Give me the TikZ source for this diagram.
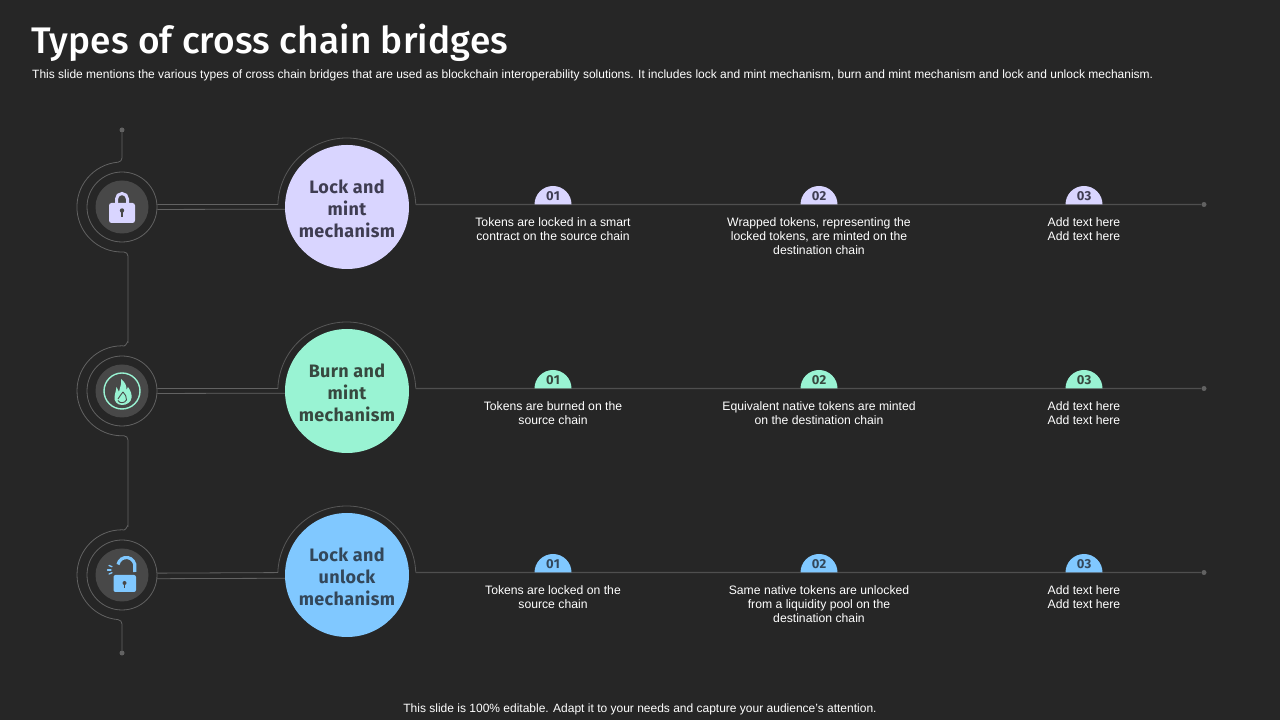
\documentclass[tikz,border=0pt]{standalone}
\usepackage{fontspec}
\usepackage{xcolor}
\usepackage{tikz}
\usetikzlibrary{calc}
\setmainfont{Liberation Sans}
\newfontfamily\headfont[LetterSpace=0.4,UprightFont=* Medium]{Fira Sans}
\newfontfamily\discfont[LetterSpace=2.0]{Fira Sans}
\definecolor{slidebg}{HTML}{262626}
\definecolor{wiregray}{HTML}{626262}
\definecolor{arcgray}{HTML}{575757}
\definecolor{railgray}{HTML}{4F4F4F}
\definecolor{hubgray}{HTML}{484848}
\definecolor{lilac}{HTML}{D9D5FF}
\definecolor{mint}{HTML}{99F3D3}
\definecolor{sky}{HTML}{80C8FF}
\definecolor{lilacink}{HTML}{3F3D52}
\definecolor{mintink}{HTML}{37483F}
\definecolor{skyink}{HTML}{33475A}
\tikzset{
  wire/.style={draw=wiregray, line width=0.8pt},
  haloarc/.style={draw=arcgray, line width=0.8pt},
  rail/.style={draw=railgray, line width=1.3pt},
  enddot/.style={circle, fill=wiregray, inner sep=0pt, minimum size=5pt},
  outerring/.style={circle, inner sep=0pt, minimum size=90pt},
  innerring/.style={circle, wire, inner sep=0pt, minimum size=70pt},
  hub/.style={circle, fill=hubgray, inner sep=0pt, minimum size=53pt},
  halo/.style={circle, inner sep=0pt, minimum size=138pt},
  bigdisc/.style={circle, inner sep=0pt, minimum size=124pt},
  disclabel/.style={inner sep=0pt, align=center, font=\discfont\bfseries\fontsize{18}{22}\selectfont},
  tabnum/.style={inner sep=0pt, font=\discfont\bfseries\fontsize{13}{13}\selectfont},
  note/.style={inner sep=0pt, align=center, text=white, font=\fontsize{12.2}{14}\selectfont}
}

\begin{document}
\begin{tikzpicture}[x=1pt,y=1pt]
        \fill[slidebg] (0,0) rectangle (1280,720);

        % Titre
        \node[anchor=west, inner sep=0pt, text=white, font=\headfont\fontsize{37}{37}\selectfont] (title) at (31,677) {Types of cross chain bridges};
        \node[anchor=west, inner sep=0pt, text=white, font=\fontsize{12}{14}\selectfont] (subtitle) at (32,645) {This slide mentions the various types of cross chain bridges that are used as blockchain interoperability solutions. It includes lock and mint mechanism, burn and mint mechanism and lock and unlock mechanism.};
        \node[inner sep=0pt, text=white, font=\fontsize{12}{14}\selectfont] (footer) at (640,11) {This slide is 100\% editable. Adapt it to your needs and capture your audience's attention.};

        % Colonne de gauche
        \node[outerring] (outera) at (122,513) {};
        \node[outerring] (outerb) at (122,329) {};
        \node[outerring] (outerc) at (122,145) {};
        \node[enddot] (topdot) at (122,590) {};
        \node[enddot] (botdot) at (122,67) {};
        \draw[wire] (topdot) -- (122,562) to[out=-90,in=5] (118,557.8) arc (95:270:45)
            -- ++(2,0) to[out=0,in=90] (128,464) -- (128,378) to[out=90,in=0] (124,374) -- (outerb.north) arc (90:270:45)
            -- ++(2,0) to[out=0,in=90] (128,280) -- (128,194) to[out=90,in=0] (124,190) -- (outerc.north) arc (90:265:45)
            to[out=-5,in=90] (122,96) -- (botdot);

        % Ligne 1 : lock and mint
        \node[innerring] (ringa) at (122,513) {};
        \node[hub] (huba) at (122,513) {};
        \node[halo] (haloa) at (347,513) {};
        \node[bigdisc, fill=lilac] (disca) at (347,513) {};
        \node[disclabel, text=lilacink] (labela) at (347,511.5) {Lock and\\mint\\mechanism};
        \draw[haloarc] (haloa.178) arc (178:2:69);
        \draw[wire] (ringa.4) -- (haloa.178);
        \draw[wire] (ringa.-4) -- (disca.182);
        \node[enddot] (enda) at (1204,515.5) {};
        \draw[rail] (haloa.2) -- (enda);
        \fill[lilac, rounded corners=2.5pt] (109,497) rectangle (135,517);
        \draw[lilac, line width=3pt] (116.5,515) -- (116.5,521) arc (180:0:5.5) -- (127.5,515);
        \fill[hubgray] (122,509.5) circle (2.2);
        \fill[hubgray] (121.2,503) rectangle (122.8,509.5);
        \fill[lilac] (534.5,515.5) arc (180:0:18.5) -- cycle;
        \fill[lilac] (800.5,515.5) arc (180:0:18.5) -- cycle;
        \fill[lilac] (1065.5,515.5) arc (180:0:18.5) -- cycle;
        \node[tabnum, text=lilacink] (numaa) at (553,524) {01};
        \node[tabnum, text=lilacink] (numab) at (819,524) {02};
        \node[tabnum, text=lilacink] (numac) at (1084,524) {03};
        \node[note, anchor=north] (noteaa) at (553,502.5) {Tokens are locked in a smart\\contract on the source chain};
        \node[note, anchor=north] (noteab) at (819,502.5) {Wrapped tokens, representing the\\locked tokens, are minted on the\\destination chain};
        \node[note, anchor=north] (noteac) at (1084,502.5) {Add text here\\Add text here};

        % Ligne 2 : burn and mint
        \node[innerring] (ringb) at (122,329) {};
        \node[hub] (hubb) at (122,329) {};
        \node[halo] (halob) at (347,329) {};
        \node[bigdisc, fill=mint] (discb) at (347,329) {};
        \node[disclabel, text=mintink] (labelb) at (347,327.5) {Burn and\\mint\\mechanism};
        \draw[haloarc] (halob.178) arc (178:2:69);
        \draw[wire] (ringb.4) -- (halob.178);
        \draw[wire] (ringb.-4) -- (discb.182);
        \node[enddot] (endb) at (1204,331.5) {};
        \draw[rail] (halob.2) -- (endb);
        \draw[mint, line width=1.4pt] (122,329) circle (18);
        \fill[mint] (122,315) .. controls (117,315) and (114,319) .. (114.5,323) .. controls (115,327) and (116,329) .. (116.5,333) .. controls (118,331) and (118.5,330) .. (119,328) .. controls (120,333) and (122,337) .. (121,341) .. controls (125,338) and (127,334) .. (126.5,330) .. controls (127.5,331) and (128,332) .. (128,333) .. controls (131,329) and (132,325) .. (131.5,322) .. controls (131,318) and (127,315) .. (122,315) -- cycle;
        \draw[hubgray, line width=0.9pt] (118,319.5) .. controls (119,316.5) and (125,316.5) .. (126.5,320) .. controls (127,323) and (125,326) .. (123,328);
        \draw[hubgray, line width=0.9pt] (123,328) .. controls (122,325) and (118.5,324) .. (118,321);
        \fill[mint] (534.5,331.5) arc (180:0:18.5) -- cycle;
        \fill[mint] (800.5,331.5) arc (180:0:18.5) -- cycle;
        \fill[mint] (1065.5,331.5) arc (180:0:18.5) -- cycle;
        \node[tabnum, text=mintink] (numba) at (553,340) {01};
        \node[tabnum, text=mintink] (numbb) at (819,340) {02};
        \node[tabnum, text=mintink] (numbc) at (1084,340) {03};
        \node[note, anchor=north] (noteba) at (553,318.5) {Tokens are burned on the\\source chain};
        \node[note, anchor=north] (notebb) at (819,318.5) {Equivalent native tokens are minted\\on the destination chain};
        \node[note, anchor=north] (notebc) at (1084,318.5) {Add text here\\Add text here};

        % Ligne 3 : lock and unlock
        \node[innerring] (ringc) at (122,145) {};
        \node[hub] (hubc) at (122,145) {};
        \node[halo] (haloc) at (347,145) {};
        \node[bigdisc, fill=sky] (discc) at (347,145) {};
        \node[disclabel, text=skyink] (labelc) at (347,143.5) {Lock and\\unlock\\mechanism};
        \draw[haloarc] (haloc.178) arc (178:2:69);
        \draw[wire] (ringc.3) -- (haloc.178);
        \draw[wire] (ringc.-6) -- (discc.183);
        \node[enddot] (endc) at (1204,147.5) {};
        \draw[rail] (haloc.2) -- (endc);
        \fill[sky, rounded corners=2pt] (113.5,128) rectangle (136,145);
        \draw[sky, line width=3.2pt] (118,155.5) arc (170:-10:8.5) -- (134.8,148);
        \fill[hubgray] (124.5,137) circle (2);
        \fill[hubgray] (123.8,132) rectangle (125.2,137);
        \draw[sky, line width=1.3pt, line cap=round] (109,154.5) -- (112,153.3);
        \draw[sky, line width=1.3pt, line cap=round] (107.5,150) -- (111,150);
        \draw[sky, line width=1.3pt, line cap=round] (109,146) -- (112,147.3);
        \fill[sky] (534.5,147.5) arc (180:0:18.5) -- cycle;
        \fill[sky] (800.5,147.5) arc (180:0:18.5) -- cycle;
        \fill[sky] (1065.5,147.5) arc (180:0:18.5) -- cycle;
        \node[tabnum, text=skyink] (numca) at (553,156) {01};
        \node[tabnum, text=skyink] (numcb) at (819,156) {02};
        \node[tabnum, text=skyink] (numcc) at (1084,156) {03};
        \node[note, anchor=north] (noteca) at (553,134.5) {Tokens are locked on the\\source chain};
        \node[note, anchor=north] (notecb) at (819,134.5) {Same native tokens are unlocked\\from a liquidity pool on the\\destination chain};
        \node[note, anchor=north] (notecc) at (1084,134.5) {Add text here\\Add text here};
\end{tikzpicture}
\end{document}
